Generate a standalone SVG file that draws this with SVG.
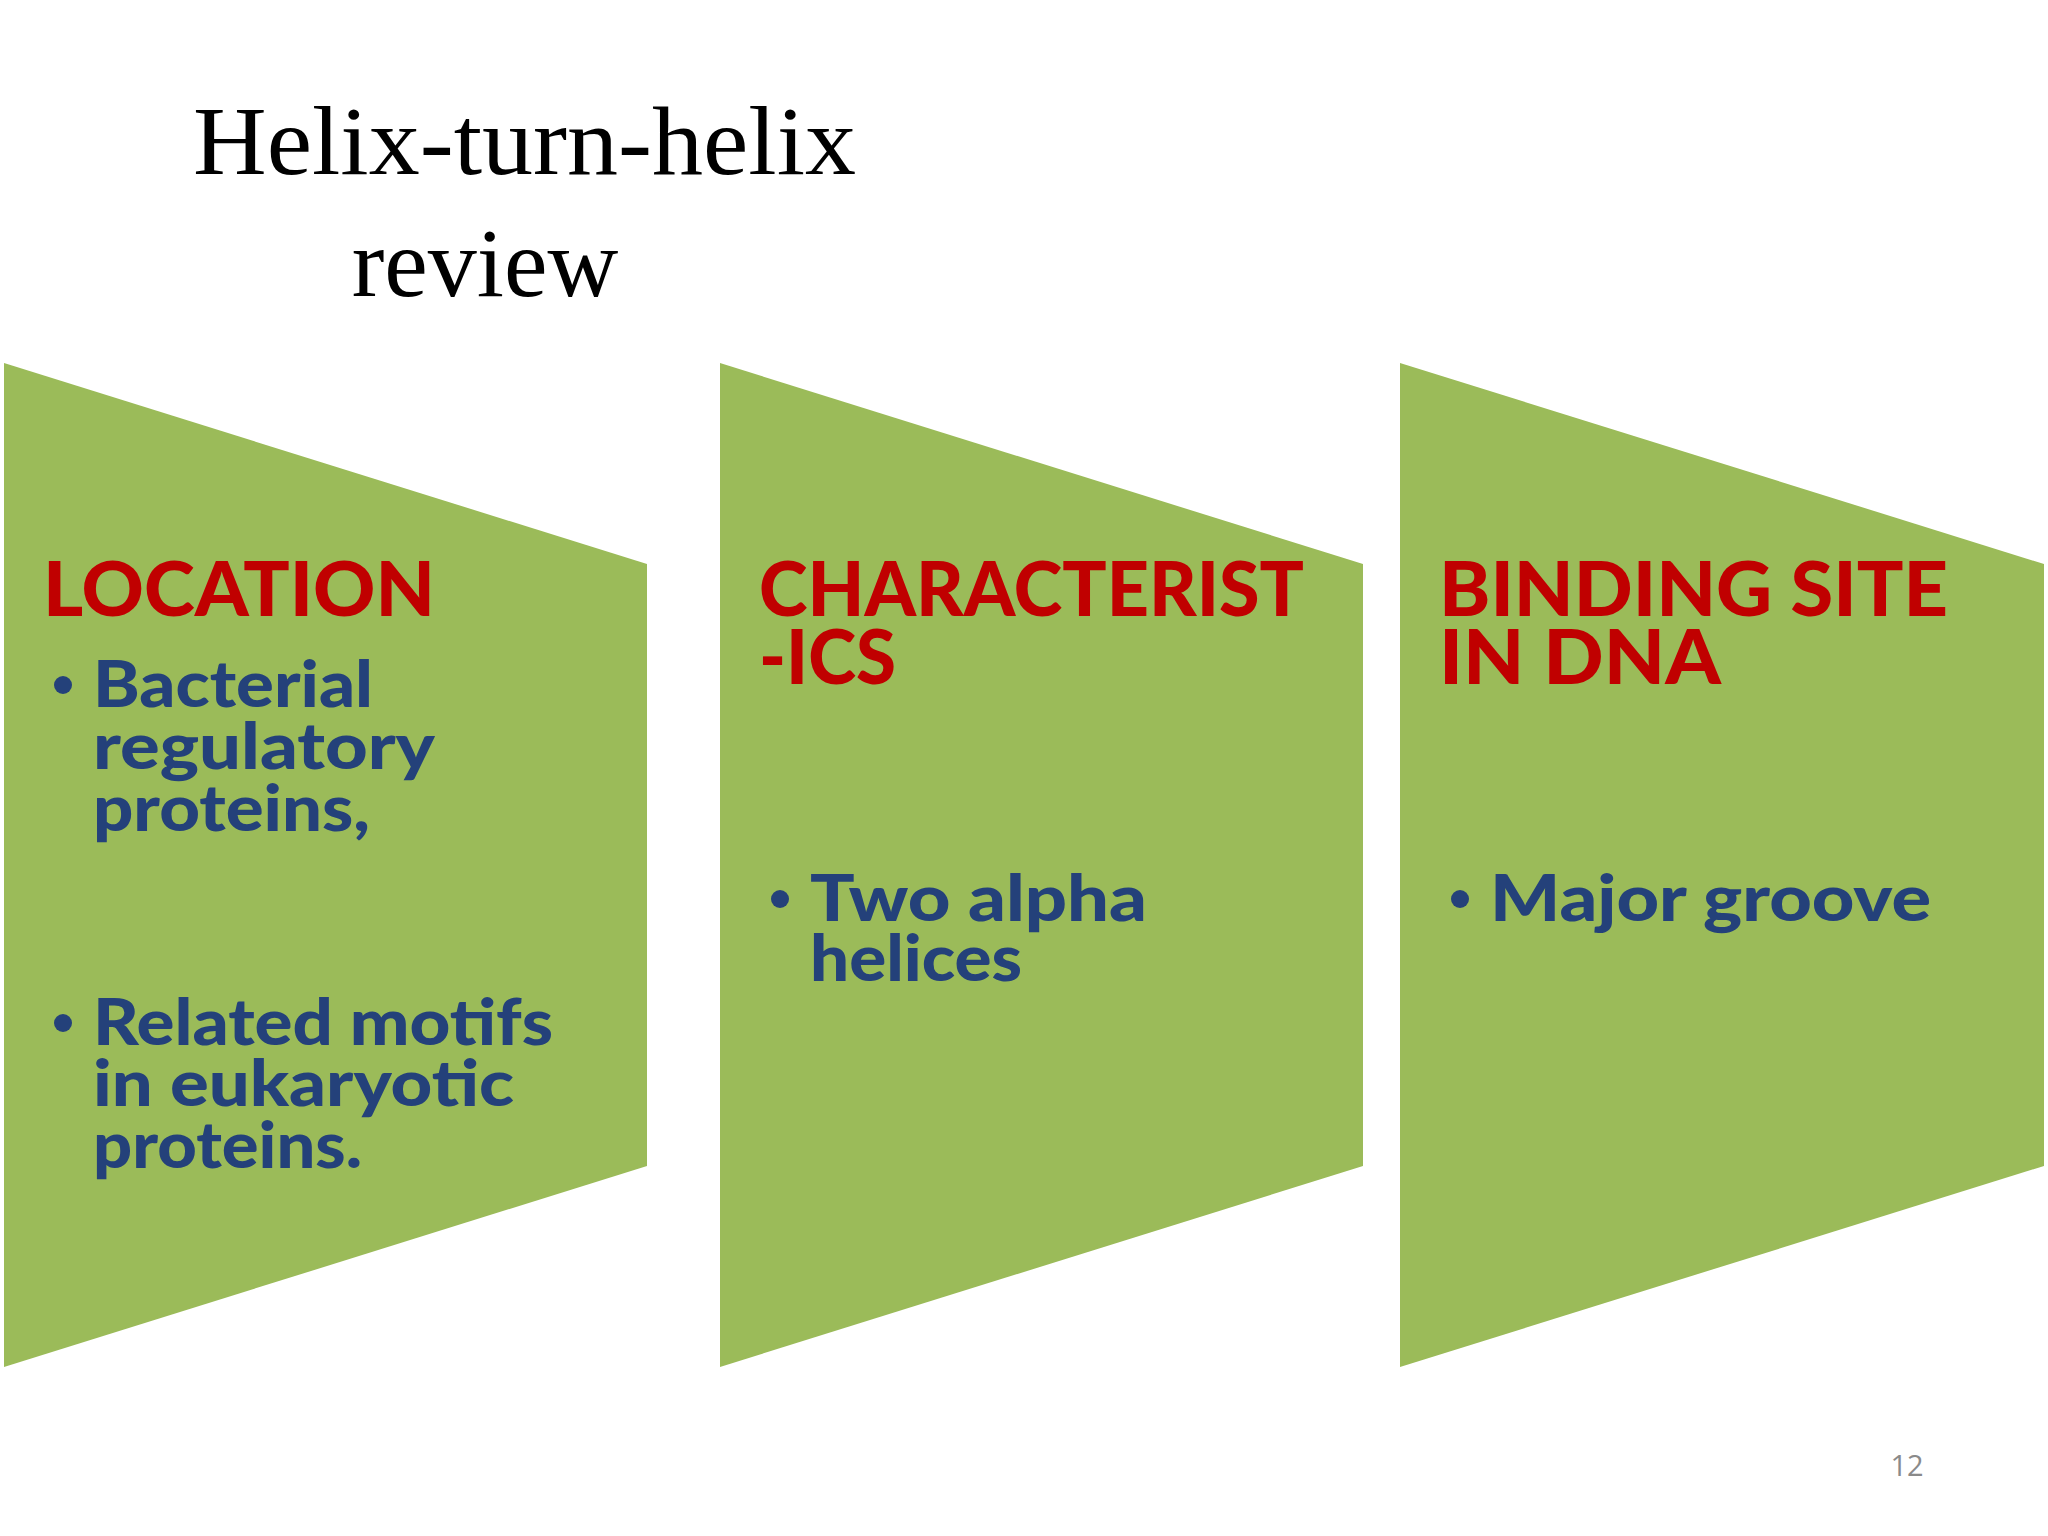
<svg xmlns="http://www.w3.org/2000/svg" width="2048" height="1536" viewBox="0 0 2048 1536">
<style>
.panel{fill:#9BBB59}
.h{font-family:"Lato","Liberation Sans",sans-serif;font-weight:900;font-size:76px;fill:#C00000}
.b{font-family:"Lato","Liberation Sans",sans-serif;font-weight:900;font-size:64px;fill:#24417A}
.d{fill:#24417A}
.t{font-family:"Liberation Serif",serif;font-size:98px;fill:#000}
</style>
<rect width="2048" height="1536" fill="#fff"/>
<text class="t" x="193" y="174" textLength="663" lengthAdjust="spacingAndGlyphs">Helix-turn-helix</text>
<text class="t" x="485" y="296" text-anchor="middle">review</text>
<g id="location">
<polygon class="panel" points="4,363 647,564 647,1166 4,1367"/>
<text class="h" x="43" y="616" textLength="392" lengthAdjust="spacingAndGlyphs">LOCATION</text>
<circle class="d" cx="63" cy="685" r="9"/>
<text class="b" x="93" y="707" textLength="280" lengthAdjust="spacingAndGlyphs">Bacterial</text>
<text class="b" x="93" y="769" textLength="342" lengthAdjust="spacingAndGlyphs">regulatory</text>
<text class="b" x="93" y="831" textLength="277" lengthAdjust="spacingAndGlyphs">proteins,</text>
<circle class="d" cx="63" cy="1023" r="9"/>
<text class="b" x="93" y="1045" textLength="460" lengthAdjust="spacingAndGlyphs">Related motifs</text>
<text class="b" x="93" y="1106" textLength="421" lengthAdjust="spacingAndGlyphs">in eukaryotic</text>
<text class="b" x="93" y="1168" textLength="269" lengthAdjust="spacingAndGlyphs">proteins.</text>
</g>
<g id="characteristics">
<polygon class="panel" points="720,363 1363,564 1363,1166 720,1367"/>
<text class="h" x="759" y="616" textLength="545" lengthAdjust="spacingAndGlyphs">CHARACTERIST</text>
<text class="h" x="759" y="684" textLength="137" lengthAdjust="spacingAndGlyphs">-ICS</text>
<circle class="d" cx="780" cy="899" r="9"/>
<text class="b" x="810" y="921" textLength="337" lengthAdjust="spacingAndGlyphs">Two alpha</text>
<text class="b" x="810" y="981" textLength="212" lengthAdjust="spacingAndGlyphs">helices</text>
</g>
<g id="binding">
<polygon class="panel" points="1400,363 2044,564 2044,1166 1400,1367"/>
<text class="h" x="1439" y="616" textLength="509" lengthAdjust="spacingAndGlyphs">BINDING SITE</text>
<text class="h" x="1439" y="684" textLength="282" lengthAdjust="spacingAndGlyphs">IN DNA</text>
<circle class="d" cx="1460" cy="899" r="9"/>
<text class="b" x="1490" y="921" textLength="441" lengthAdjust="spacingAndGlyphs">Major groove</text>
</g>
<g id="connectors"/>
<text x="1907" y="1476" text-anchor="middle" font-family="Open Sans, sans-serif" font-size="29" fill="#8A8A8A">12</text>
</svg>
